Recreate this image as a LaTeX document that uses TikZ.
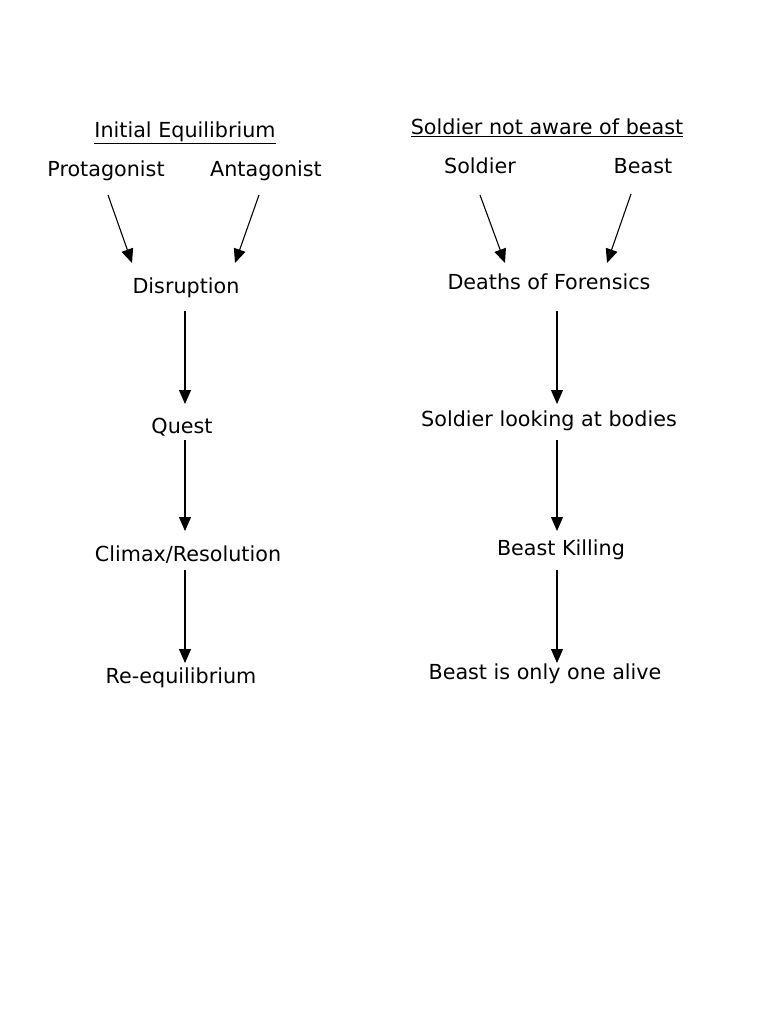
\documentclass[tikz,border=0pt]{standalone}
\usepackage{fontspec}
\setmainfont{DejaVu Sans}
\usetikzlibrary{arrows.meta}
\begin{document}
\begin{tikzpicture}[x=1pt,y=-1pt,
  lbl/.style={inner sep=0pt,font=\fontsize{20.7}{24}\selectfont},
  arr/.style={line width=1.1pt,-{Triangle[length=14pt,width=12pt]}}]
\useasboundingbox (0,0) rectangle (768,1024);
% left column
\node[lbl] (t1) at (185,133) {\underline{Initial Equilibrium}};
\node[lbl] (prot) at (106,171) {Protagonist};
\node[lbl] (anta) at (266,171) {Antagonist};
\node[lbl] (disr) at (186,288) {Disruption};
\node[lbl] (ques) at (182,427) {Quest};
\node[lbl] (clim) at (188,555) {Climax/Resolution};
\node[lbl] (requ) at (181,678) {Re-equilibrium};
% right column
\node[lbl] (t2) at (547,128) {\underline{Soldier not aware of beast}};
\node[lbl] (sold) at (480,166) {Soldier};
\node[lbl] (beas) at (643,166) {Beast};
\node[lbl] (deat) at (549,282) {Deaths of Forensics};
\node[lbl] (look) at (549,421) {Soldier looking at bodies};
\node[lbl] (kill) at (561,550) {Beast Killing};
\node[lbl] (aliv) at (545,674) {Beast is only one alive};
% arrow end coordinates
\coordinate (protS) at (108,195); \coordinate (disrL) at (132,263);
\coordinate (antaS) at (259,195); \coordinate (disrR) at (235,263);
\coordinate (disrS) at (185,311); \coordinate (quesN) at (185,404);
\coordinate (quesS) at (185,440); \coordinate (climN) at (185,531);
\coordinate (climS) at (185,570); \coordinate (requN) at (185,663);
\coordinate (soldS) at (480,195); \coordinate (deatL) at (505,263);
\coordinate (beasS) at (631,194); \coordinate (deatR) at (607,263);
\coordinate (deatS) at (557,311); \coordinate (lookN) at (557,404);
\coordinate (lookS) at (557,440); \coordinate (killN) at (557,531);
\coordinate (killS) at (557,570); \coordinate (alivN) at (557,663);
\draw[arr] (protS) -- (disrL);
\draw[arr] (antaS) -- (disrR);
\draw[arr] (disrS) -- (quesN);
\draw[arr] (quesS) -- (climN);
\draw[arr] (climS) -- (requN);
\draw[arr] (soldS) -- (deatL);
\draw[arr] (beasS) -- (deatR);
\draw[arr] (deatS) -- (lookN);
\draw[arr] (lookS) -- (killN);
\draw[arr] (killS) -- (alivN);
\end{tikzpicture}
\end{document}
